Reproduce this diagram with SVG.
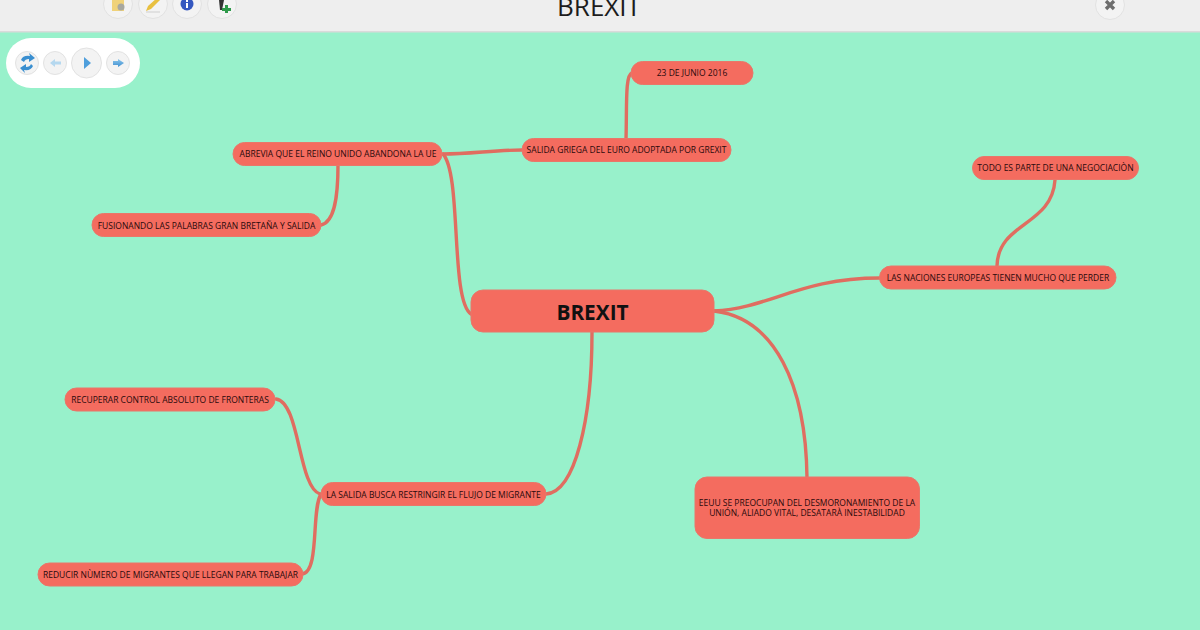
<svg xmlns="http://www.w3.org/2000/svg" width="1200" height="630" viewBox="0 0 1200 630">
<defs>
<linearGradient id="blue" x1="0" y1="0" x2="0" y2="1"><stop offset="0" stop-color="#8cc6ec"/><stop offset="1" stop-color="#3f8fd0"/></linearGradient>
</defs>
<style>
.n{fill:#f46c5f;stroke:#e8776a;stroke-width:1}
.c{fill:none;stroke:#e06d60;stroke-width:3.4;stroke-linecap:round}
.t{font-family:"Open Sans","DejaVu Sans",sans-serif;font-size:8.5px;fill:#2a0a0c;text-anchor:middle}
.b{fill:#f3f3f3;stroke:#e2e2e2;stroke-width:1}
</style>
<rect width="1200" height="630" fill="#98f1cb"/>
<g id="toolbar">
<rect width="1200" height="32" fill="#eeeeee"/>
<rect y="31" width="1200" height="1.5" fill="#dadada"/>
<circle class="b" cx="118" cy="4" r="14.500"/>
<circle class="b" cx="153" cy="4" r="14.500"/>
<circle class="b" cx="187" cy="4" r="14.500"/>
<circle class="b" cx="222" cy="4" r="14.500"/>
<circle class="b" cx="1110" cy="5" r="14.500"/>
<path d="M112 0H124V11H112Z" fill="#f0d27a"/>
<circle cx="121" cy="7" r="3.500" fill="#a8a8a0"/>
<path d="M146 11L148 6L157 -2L160 0L151 9Z" fill="#e8c040"/>
<path d="M146 12H160" stroke="#cfcfcf" stroke-width="1"/>
<circle cx="187" cy="4" r="6.500" fill="#3558c0"/>
<rect x="186" y="3" width="2" height="5" fill="#fff"/>
<rect x="186" y="0" width="2" height="2" fill="#fff"/>
<path d="M219 0H224L222 10H220Z" fill="#333"/>
<path d="M222 8H225V5H228V8H231V11H228V13H225V11H222Z" fill="#2e9a4a"/>
<path d="M1106 1L1114 9M1114 1L1106 9" stroke="#6e6e6e" stroke-width="3.400"/>
<text x="599" y="16" font-family="'Open Sans','DejaVu Sans',sans-serif" font-size="26" fill="#1c1c1c" text-anchor="middle">BREXIT</text>
</g>
<g id="player">
<rect x="6" y="38" width="134" height="50" rx="25" fill="#ffffff"/>
<circle class="b" cx="27" cy="63" r="11.500"/>
<circle class="b" cx="55" cy="63" r="11.500" fill="#f8f8f8"/>
<circle class="b" cx="86.500" cy="63" r="15"/>
<circle class="b" cx="118" cy="63" r="11.500"/>
<path d="M21 60Q23 55 30 56L29 53L35 58L29 62L29 59Q25 59 24 62ZM33 66Q31 71 24 70L25 73L20 68L26 64L26 67Q30 67 31 64Z" fill="#3a8fd0"/>
<path d="M50 63L55 59V61.500H61V64.500H55V67Z" fill="#b5d8ef"/>
<path d="M84 57L91 63L84 69Z" fill="#4f9fdc"/>
<path d="M124 63L118 59V61H113V65H118V67Z" fill="url(#blue)"/>
</g>
<g id="connectors">
<path class="c" d="M714 311C770 308 800 278 880 278"/>
<path class="c" d="M997 266C998 222 1052 226 1055 180"/>
<path class="c" d="M714 311C775 318 806 385 807 478"/>
<path class="c" d="M592 332C592 420 575 492 546 494"/>
<path class="c" d="M320 494C298 487 300 402 276 399"/>
<path class="c" d="M321 494C311 510 320 572 302 574"/>
<path class="c" d="M471 314C450 300 462 175 443 154"/>
<path class="c" d="M443 154C470 154 495 150 522 150"/>
<path class="c" d="M626 139C627 105 625 75 632 73"/>
<path class="c" d="M338 165C338 195 335 222 321 225"/>
</g>
<g id="n-root"><rect class="n" x="471" y="290" width="243" height="42" rx="12"/><text x="592.500" y="319.500" font-family="'Open Sans','DejaVu Sans',sans-serif" font-weight="700" font-size="20.800" fill="#111" text-anchor="middle">BREXIT</text></g>
<g id="n-fecha"><rect class="n" x="631" y="61.500" width="122" height="23" rx="11.500"/><text class="t" x="692" y="76">23 DE JUNIO 2016</text></g>
<g id="n-grexit"><rect class="n" x="522" y="138.500" width="209" height="23" rx="11.500"/><text class="t" x="626.500" y="153">SALIDA GRIEGA DEL EURO ADOPTADA POR GREXIT</text></g>
<g id="n-abrevia"><rect class="n" x="233" y="142.500" width="209" height="23" rx="11.500"/><text class="t" x="338" y="157">ABREVIA QUE EL REINO UNIDO ABANDONA LA UE</text></g>
<g id="n-fusion"><rect class="n" x="92" y="213.500" width="229" height="23" rx="11.500"/><text class="t" x="206.500" y="228.500">FUSIONANDO LAS PALABRAS GRAN BRETAÑA Y SALIDA</text></g>
<g id="n-todo"><rect class="n" x="972.500" y="156.500" width="166" height="23" rx="11.500"/><text class="t" x="1055.500" y="171">TODO ES PARTE DE UNA NEGOCIACIÒN</text></g>
<g id="n-naciones"><rect class="n" x="879.500" y="266" width="236.500" height="23" rx="11.500"/><text class="t" x="998" y="280.500">LAS NACIONES EUROPEAS TIENEN MUCHO QUE PERDER</text></g>
<g id="n-recuperar"><rect class="n" x="65" y="388" width="210" height="23" rx="11.500"/><text class="t" x="170" y="402.500">RECUPERAR CONTROL ABSOLUTO DE FRONTERAS</text></g>
<g id="n-salida"><rect class="n" x="321" y="482.500" width="225" height="23" rx="11.500"/><text class="t" x="433.500" y="497.500">LA SALIDA BUSCA RESTRINGIR EL FLUJO DE MIGRANTE</text></g>
<g id="n-reducir"><rect class="n" x="38" y="563" width="265" height="23" rx="11.500"/><text class="t" x="170.500" y="578">REDUCIR NÙMERO DE MIGRANTES QUE LLEGAN PARA TRABAJAR</text></g>
<g id="n-eeuu"><rect class="n" x="695" y="477" width="224.500" height="61.500" rx="12"/><text class="t" x="807" y="505.500">EEUU SE PREOCUPAN DEL DESMORONAMIENTO DE LA</text><text class="t" x="807" y="516">UNIÓN, ALIADO VITAL, DESATARÀ INESTABILIDAD</text></g>
</svg>
